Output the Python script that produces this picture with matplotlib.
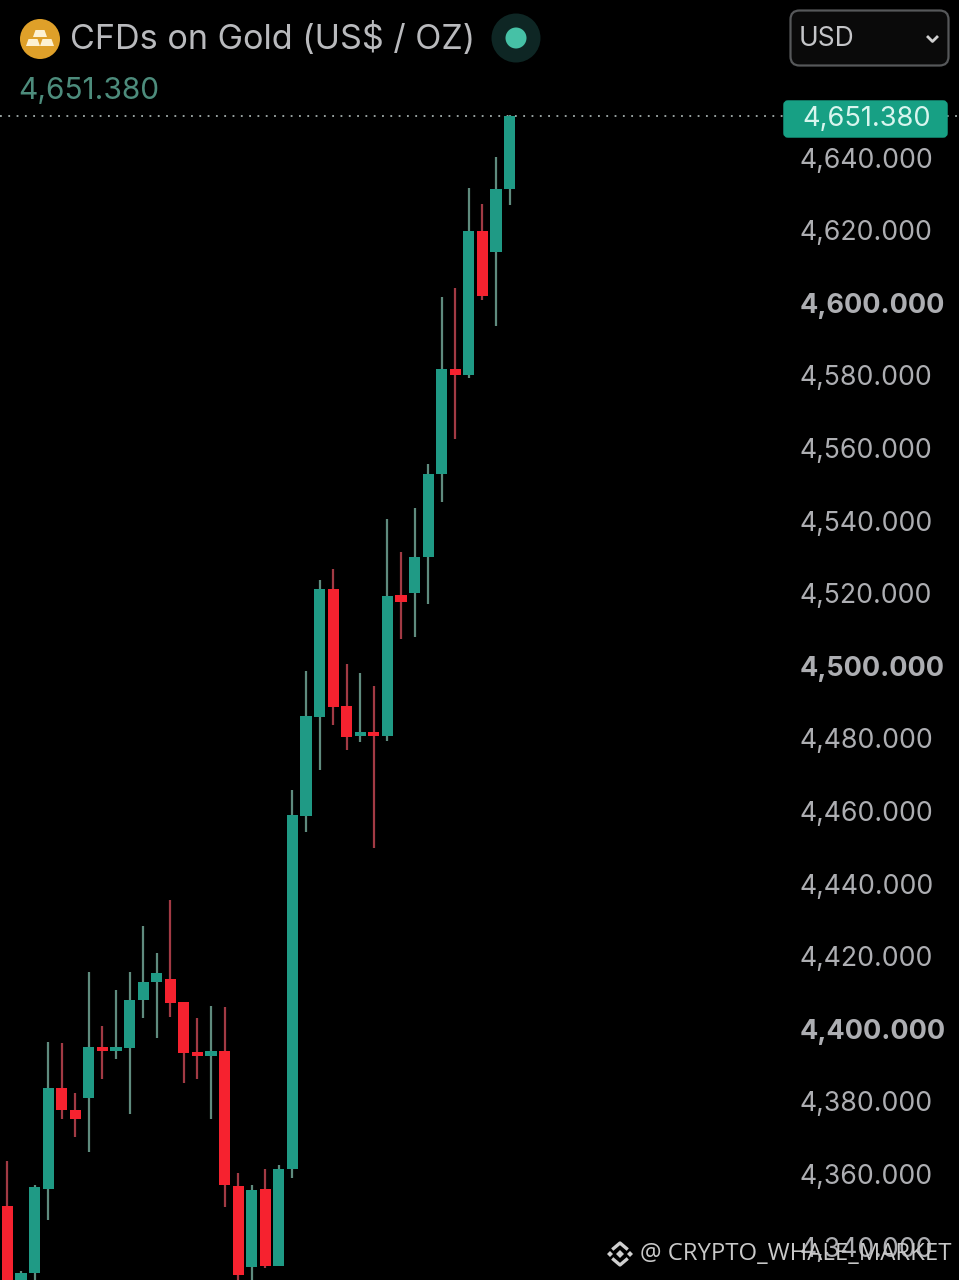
import matplotlib
matplotlib.use("Agg")
import matplotlib.pyplot as plt
from matplotlib.patches import Circle, FancyBboxPatch, Polygon

opens = [4351.2, 4326.6, 4332.8, 4356.0, 4383.6, 4377.6, 4381.0, 4395.0, 4393.9, 4394.8,
         4407.9, 4412.9, 4413.7, 4407.4, 4393.5, 4392.6, 4393.8, 4356.8, 4334.4, 4355.8,
         4334.7, 4361.3, 4458.7, 4486.0, 4521.2, 4489.0, 4480.6, 4481.7, 4480.6, 4519.4,
         4520.1, 4529.9, 4552.8, 4581.7, 4580.1, 4619.9, 4614.0, 4631.3]
closes = [4328.0, 4332.8, 4356.5, 4383.7, 4377.6, 4375.2, 4394.9, 4393.9, 4394.9, 4407.9,
          4412.9, 4415.3, 4407.0, 4393.3, 4392.6, 4393.9, 4356.9, 4332.1, 4355.6, 4334.6,
          4361.4, 4458.9, 4486.1, 4521.2, 4488.6, 4480.4, 4481.8, 4480.6, 4519.2, 4517.5,
          4529.9, 4552.8, 4581.7, 4580.1, 4619.8, 4601.8, 4631.3, 4651.38]
highs = [4363.6, 4333.2, 4357.0, 4396.3, 4396.0, 4382.2, 4415.7, 4400.7, 4410.7, 4415.7,
         4428.3, 4420.8, 4435.5, 4407.4, 4403.0, 4406.3, 4406.1, 4360.2, 4357.0, 4361.4,
         4362.5, 4465.8, 4498.6, 4523.6, 4526.6, 4500.5, 4498.1, 4494.4, 4540.3, 4531.4,
         4543.4, 4555.6, 4601.5, 4604.0, 4631.5, 4627.2, 4640.2, 4651.7]
lows = [4325.0, 4322.0, 4328.0, 4347.3, 4375.2, 4370.1, 4366.1, 4386.1, 4391.6, 4376.4,
        4403.1, 4397.4, 4403.3, 4385.0, 4386.1, 4375.2, 4350.8, 4329.6, 4328.0, 4334.2,
        4334.7, 4359.0, 4454.3, 4471.3, 4483.6, 4476.8, 4479.1, 4449.9, 4479.3, 4507.3,
        4507.8, 4517.0, 4545.1, 4562.5, 4579.2, 4600.7, 4593.7, 4626.9]

ticks = [4640, 4620, 4600, 4580, 4560, 4540, 4520, 4500, 4480, 4460, 4440, 4420, 4400, 4380, 4360, 4340]
major_ticks = [4600, 4500, 4400]
last_price = 4651.38

GREEN = "#1f9a85"
RED = "#f6222f"
GREEN_WICK = "#5f8b7e"
RED_WICK = "#a23a44"
GREY = "#adaeb2"
FONT = "Inter"

fig = plt.figure(figsize=(9.59, 12.8), dpi=100, facecolor="black")
ax = fig.add_axes([0, 0, 1, 1], facecolor="black")

idx = list(range(len(opens)))
up = [c >= o for o, c in zip(opens, closes)]
wick_cols = [GREEN_WICK if u else RED_WICK for u in up]
body_cols = [GREEN if u else RED for u in up]
ax.vlines(idx, lows, highs, colors=wick_cols, linewidth=1.6, zorder=2)
ax.bar(idx, [abs(c - o) for o, c in zip(opens, closes)], bottom=[min(o, c) for o, c in zip(opens, closes)],
       width=0.82, color=body_cols, linewidth=0, zorder=3)

ax.axhline(last_price, color="#a5b0ae", linewidth=1.3, linestyle=(0, (1, 3.6)), zorder=1)

# 13.57 px per candle, 3.63 px per dollar
ax.set_xlim(-0.55, 70.12)
ax.set_ylim(4330.8, 4683.4)
ax.set_xticks([])
ax.yaxis.tick_right()
ax.set_yticks(ticks)
ax.set_yticklabels([f"{t:,.3f}" for t in ticks], fontsize=19.2, family=FONT, color=GREY)
ax.tick_params(axis="y", length=0, pad=-114.5)
for t, lab in zip(ticks, ax.get_yticklabels()):
    if t in major_ticks:
        lab.set_fontweight("bold")
        lab.set_fontsize(19.5)
for s in ax.spines.values():
    s.set_visible(False)

# header, price tag and watermark sit on a pixel overlay
ui = fig.add_axes([0, 0, 1, 1], facecolor="none")
ui.set_xlim(0, 959)
ui.set_ylim(1280, 0)
ui.axis("off")

ui.add_patch(FancyBboxPatch((785, 102), 161, 34, boxstyle="round,pad=0,rounding_size=3",
                            fc="#17a084", ec="#17a084", lw=2.5))
ui.text(867, 119, "4,651.380", color="#d8f5ee", fontsize=19.6, family=FONT, ha="center", va="center")

ui.add_patch(FancyBboxPatch((790.5, 10.5), 158, 55, boxstyle="round,pad=0,rounding_size=9",
                            fc="#0a0a0a", ec="#56585a", lw=1.6))
ui.text(799, 39, "USD", color="#c4c5c8", fontsize=19, family=FONT, va="center")
ui.plot([928, 932.5, 937], [37, 41.5, 37], color="#d0d0d0", lw=2)

# gold icon
ui.add_patch(Circle((40, 39), 20, fc="#dfa029", ec="none"))
for bx, by in [(40, 30), (33, 39), (47, 39)]:
    ui.add_patch(Polygon([(bx - 4.5, by), (bx + 4.5, by), (bx + 7, by + 7), (bx - 7, by + 7)],
                         fc="#fdf1d2", ec="none"))
ui.text(70, 39.5, "CFDs on Gold (US$ / OZ)", color="#b9babd", fontsize=24.6, family=FONT, va="center")
ui.text(18, 91, "4,651.380", color="#4d8c7c", fontsize=21.5, family=FONT, va="center")
ui.add_patch(Circle((516, 38), 24.5, fc="#0e2624", ec="none"))
ui.add_patch(Circle((516, 38), 10.5, fc="#46c1a6", ec="none"))

# watermark logo: centre diamond, side diamonds, upper and lower chevrons
ui.add_patch(Polygon([(620, 1250), (624, 1254), (620, 1258), (616, 1254)], fc="#d0d0d0", ec="none"))
ui.add_patch(Polygon([(610, 1251), (613, 1254), (610, 1257), (607, 1254)], fc="#d0d0d0", ec="none"))
ui.add_patch(Polygon([(630, 1251), (633, 1254), (630, 1257), (627, 1254)], fc="#d0d0d0", ec="none"))
ui.plot([613.5, 620, 626.5], [1248.5, 1243, 1248.5], color="#d0d0d0", lw=2.4)
ui.plot([613.5, 620, 626.5], [1259.5, 1265, 1259.5], color="#d0d0d0", lw=2.4)
ui.text(640, 1254, "@ CRYPTO_WHALE_MARKET", color="#c9c9c9", fontsize=17.2, family="Open Sans", va="center")

fig.savefig("out.png", dpi=100, facecolor="black")
